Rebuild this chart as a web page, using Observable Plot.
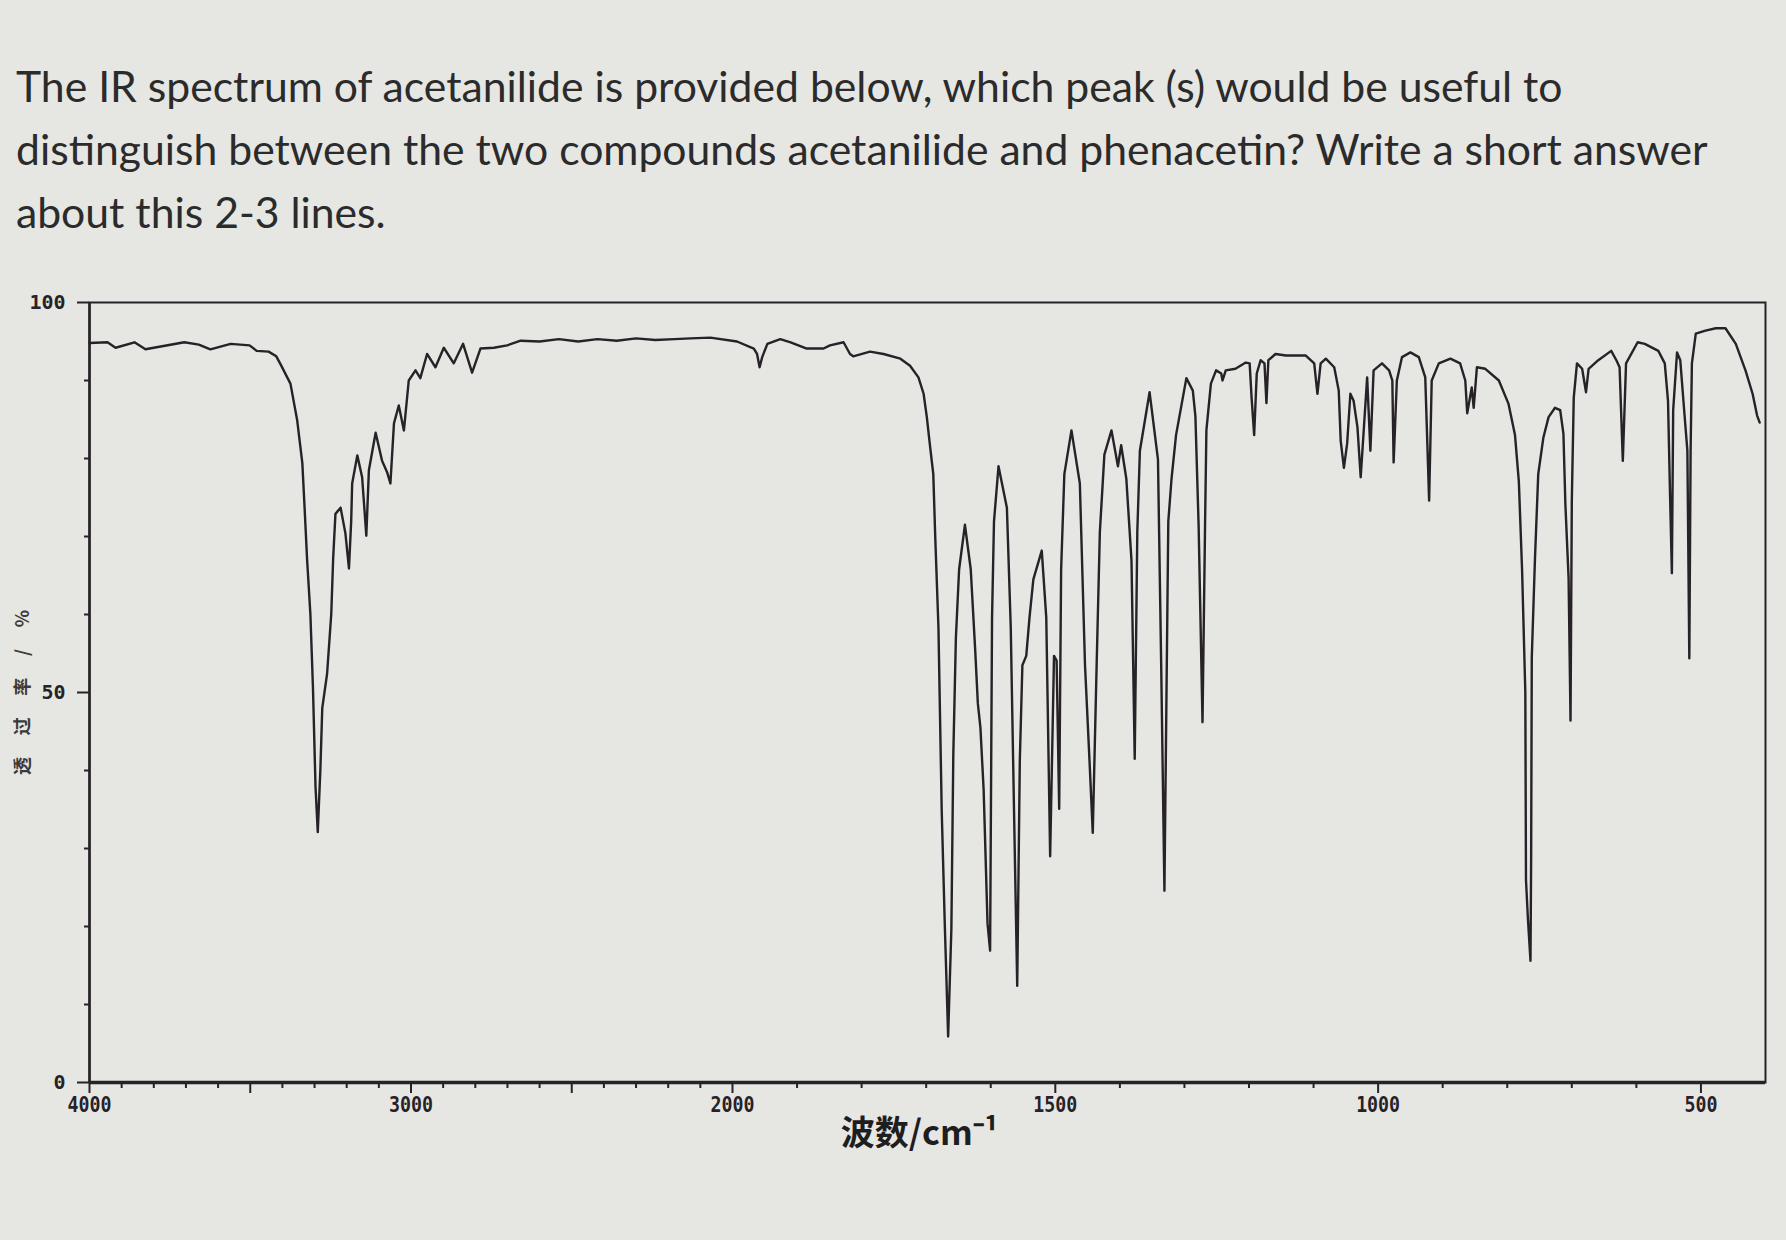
<!DOCTYPE html>
<html>
<head>
<meta charset="utf-8">
<script src="https://cdn.jsdelivr.net/npm/d3@7"></script>
<script src="https://cdn.jsdelivr.net/npm/@observablehq/plot@0.6"></script>
<style>
  html, body { margin: 0; padding: 0; background: #e6e6e3; width: 1786px; height: 1240px; overflow: hidden; }
  #title { position: absolute; left: 16px; top: 54px; font-family: Lato, "Open Sans", sans-serif; font-size: 42.7px; line-height: 63px; color: #2b2b2b; white-space: nowrap; }
  #chart { position: absolute; left: 0; top: 250px; }
</style>
</head>
<body>
<div id="title">The IR spectrum of acetanilide is provided below, which peak (s) would be useful to<br>distinguish between the two compounds acetanilide and phenacetin? Write a short answer<br>about this 2-3 lines.</div>
<div id="chart"></div>
<script>
// Wavenumbers (cm-1) and transmittance (%)
const wavenumbers = [
  4000, 3944, 3919, 3860, 3826, 3705, 3660, 3624, 3561, 3502, 3480, 3443, 3419, 3406,
  3375, 3354, 3338, 3331, 3323, 3313, 3305, 3297, 3290, 3282, 3276, 3261, 3248, 3242,
  3235, 3219, 3204, 3193, 3186, 3183, 3167, 3152, 3139, 3131, 3110, 3090, 3074, 3064,
  3053, 3038, 3022, 3007, 2986, 2971, 2950, 2924, 2898, 2867, 2838, 2810, 2784, 2742,
  2701, 2659, 2600, 2540, 2480, 2420, 2360, 2300, 2240, 2180, 2131, 2069,
  1993, 1967, 1962, 1958, 1954, 1946, 1926, 1910, 1885, 1859, 1849, 1828, 1818, 1813,
  1787, 1766, 1740, 1725, 1712, 1704, 1699, 1695, 1689, 1686, 1681, 1676, 1671, 1666,
  1661, 1658, 1654, 1649, 1640, 1631, 1624, 1620, 1616, 1611, 1605, 1601, 1598, 1595,
  1588, 1575, 1569, 1564, 1559, 1555, 1551, 1545, 1540, 1534, 1521, 1514, 1508, 1502,
  1498, 1494, 1491, 1486, 1475, 1462, 1454, 1447, 1442, 1436, 1431, 1424, 1413, 1403,
  1398, 1390, 1382, 1377, 1373, 1369, 1354, 1341, 1336, 1331, 1325, 1320, 1313, 1297,
  1287, 1283, 1278, 1272, 1268, 1266, 1259, 1251, 1243, 1241, 1236, 1221, 1205, 1199,
  1196, 1192, 1188, 1182, 1176, 1173, 1170, 1159, 1143, 1112, 1099, 1094, 1089, 1081,
  1068, 1061, 1058, 1053, 1048, 1043, 1038, 1032, 1027, 1022, 1017, 1012, 1007, 994,
  983, 978, 976, 971, 963, 950, 937, 927, 921, 917, 906, 888, 873, 865, 862, 855, 852,
  847, 834, 813, 798, 788, 782, 777, 772, 771, 768, 764, 763, 762, 757, 752, 744, 736,
  726, 718, 713, 710, 705, 702, 700, 697, 692, 684, 678, 674, 659, 639, 631, 626, 621,
  616, 598, 587, 566, 556, 551, 548, 545, 543, 537, 532, 526, 521, 518, 516, 514, 508,
  493, 477, 462, 446, 431, 420, 413, 409
];
const transmittance = [
  94.8, 94.9, 94.2, 94.9, 94.0, 94.9, 94.6, 94.0, 94.7, 94.5, 93.8, 93.7, 93.1, 92.1,
  89.6, 84.9, 79.4, 73.7, 66.9, 60.1, 50.7, 37.9, 32.1, 40.0, 48.0, 52.4, 60.1, 67.3,
  72.9, 73.7, 70.4, 65.9, 72.0, 76.8, 80.4, 77.6, 70.1, 78.5, 83.3, 79.7, 78.2, 76.8,
  84.5, 86.8, 83.6, 90.0, 91.3, 90.3, 93.4, 91.7, 94.2, 92.2, 94.7, 91.0, 94.1, 94.2,
  94.5, 95.1, 95.0, 95.3, 95.0, 95.3, 95.1, 95.4, 95.2, 95.3, 95.4, 95.5,
  95.0, 94.1, 93.4, 91.7, 93.0, 94.7, 95.3, 94.9, 94.1, 94.1, 94.5, 94.9, 93.4, 93.1,
  93.7, 93.4, 92.8, 91.9, 90.4, 88.3, 85.3, 82.3, 78.0, 70.0, 58.3, 35.0, 19.7, 5.9,
  19.7, 42.0, 57.0, 65.8, 71.5, 65.8, 55.3, 48.6, 45.5, 37.5, 20.4, 16.9, 59.6, 71.9,
  79.0, 73.7, 58.3, 35.1, 12.4, 41.2, 53.5, 54.7, 59.6, 64.5, 68.2, 59.6, 29.0, 54.7,
  54.1, 35.1, 65.8, 78.0, 83.6, 76.8, 53.5, 41.2, 32.0, 53.5, 70.6, 80.5, 83.6, 79.0,
  81.7, 77.4, 66.9, 41.5, 70.6, 81.0, 88.5, 79.9, 53.5, 24.6, 71.9, 77.4, 83.0, 90.3,
  88.7, 85.4, 71.3, 46.2, 71.9, 83.6, 89.6, 91.3, 90.9, 90.0, 91.3, 91.5, 92.3, 92.2,
  87.8, 83.0, 90.9, 92.6, 92.2, 87.1, 92.6, 93.4, 93.2, 93.2, 92.2, 88.3, 92.2, 92.8,
  91.7, 88.7, 82.3, 78.8, 81.9, 88.3, 87.4, 84.0, 77.6, 84.0, 90.4, 81.0, 91.3, 92.2,
  91.3, 90.0, 79.5, 90.0, 93.0, 93.6, 93.0, 90.4, 74.6, 90.0, 92.2, 92.8, 92.2, 90.0, 85.8, 89.1, 86.5,
  91.7, 91.5, 90.0, 87.0, 83.0, 77.0, 65.6, 50.0, 26.0, 21.0, 15.6, 28.8, 54.5, 67.3, 78.0, 82.7, 85.3,
  86.5, 86.2, 83.2, 74.2, 64.7, 46.4, 74.6, 87.8, 92.2, 91.5, 88.5, 91.5, 92.6, 93.8, 92.6, 91.7, 79.7,
  92.2, 94.9, 94.7, 93.8, 92.2, 87.4, 75.9, 65.3, 86.2, 93.6, 92.6, 86.2, 81.0, 54.4, 81.0, 92.2, 96.0,
  96.4, 96.7, 96.7, 94.7, 91.3, 88.3, 85.5, 84.6
];

// Axis tick values
const xLabelTicks = [4000, 3000, 2000, 1500, 1000, 500];
const xMidTicks = [3500, 2500];
const xMinorTicks = [3900, 3800, 3700, 3600, 3400, 3300, 3200, 3100, 2900, 2800, 2700, 2600,
  2400, 2300, 2200, 2100, 1900, 1800, 1700, 1600, 1400, 1300, 1200, 1100, 900, 800, 700, 600];
const yLabelTicks = [0, 50, 100];
const yMinorTicks = [10, 20, 30, 40, 60, 70, 80, 90];
const xDomain = [4000, 2000, 400];
const xTitle = "波数/cm⁻¹";
const yTitle = "透过率/%";

const data = wavenumbers.map((w, i) => ({w, t: transmittance[i]}));

const ink = "#262227";
const chart = Plot.plot({
  width: 1786,
  height: 990,
  marginTop: 52,
  marginBottom: 158,
  marginLeft: 89,
  marginRight: 21,
  style: {background: "transparent", color: ink, fontFamily: "'DejaVu Sans Mono', monospace"},
  x: {type: "linear", domain: xDomain, range: [89, 732, 1765]},
  y: {domain: [0, 100]},
  marks: [
    Plot.frame({stroke: ink, strokeWidth: 2}),
    Plot.axisX({ticks: xLabelTicks, tickSize: 11, tickPadding: 4, strokeWidth: 2,
      fontSize: 21, fontWeight: "bold", tickFormat: d => String(d), label: null}),
    Plot.axisX({ticks: xMidTicks, tickSize: 11, strokeWidth: 2, tickFormat: () => "", label: null}),
    Plot.axisX({ticks: xMinorTicks, tickSize: 6, strokeWidth: 2, tickFormat: () => "", label: null}),
    Plot.axisY({ticks: yLabelTicks, tickSize: 12, tickPadding: 12, strokeWidth: 2,
      fontSize: 20, fontWeight: "bold", tickFormat: d => String(d), label: null}),
    Plot.axisY({ticks: yMinorTicks, tickSize: 5, strokeWidth: 2, tickFormat: () => "", label: null}),
    Plot.ruleY([0], {stroke: ink, strokeWidth: 3.5}),
    Plot.ruleX([4000], {stroke: ink, strokeWidth: 2.5}),
    Plot.line(data, {x: "w", y: "t", stroke: ink, strokeWidth: 2.4, curve: "linear"}),
    Plot.text([xTitle], {frameAnchor: "bottom", dy: 52, dx: -8, fontSize: 34, fontWeight: "bold",
      fontFamily: "'Noto Sans CJK SC', sans-serif", fill: "#1e1e1e", lineAnchor: "middle"}),
    Plot.text([yTitle], {frameAnchor: "left", dx: -66, rotate: -90, fontSize: 18, fontWeight: "bold",
      textAnchor: "middle", fontFamily: "'Noto Sans CJK SC', sans-serif", fill: "#3a3a3a"})
  ]
});

d3.select(chart).selectAll('g[aria-label="x-axis tick label"] text').each(function () {
  const s = this.textContent;
  if (s) {
    this.setAttribute("textLength", s.length * 11);
    this.setAttribute("lengthAdjust", "spacingAndGlyphs");
  }
});
d3.select(chart).selectAll("text").filter(function () { return this.textContent === yTitle; })
  .attr("textLength", 165).attr("lengthAdjust", "spacing");

document.getElementById("chart").appendChild(chart);
</script>
</body>
</html>
